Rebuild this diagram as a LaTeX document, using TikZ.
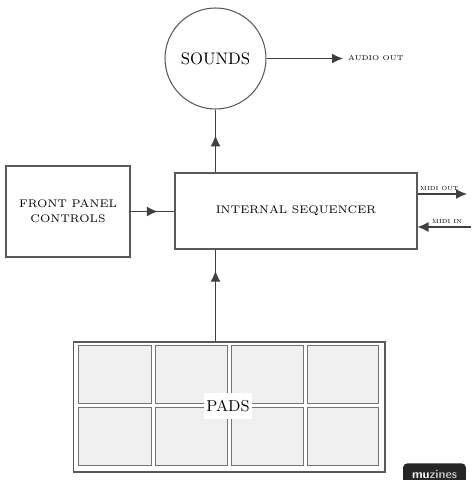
\documentclass[tikz,border=0pt]{standalone}
\usepackage{tikz}
\usetikzlibrary{arrows.meta, calc, positioning, decorations.markings}

\begin{document}
\begin{tikzpicture}[x=0.02cm, y=-0.02cm,
  box/.style={draw=black!65, line width=0.6pt, rectangle, inner sep=0pt},
  link/.style={draw=black!75, line width=0.7pt},
  tip/.style={-{Latex[length=0.22cm,width=0.2cm]}},
  arrowat/.style={postaction={decorate}, decoration={markings, mark=at position #1 with {\arrow{Latex[length=0.22cm,width=0.2cm]}}}},
  tiny/.style={inner sep=1pt, font=\fontsize{3.3}{4}\selectfont}]
\useasboundingbox (0,0) rectangle (474,480);

% Blocks
\node[circle, draw=black!65, line width=0.6pt, minimum size=2.02cm, inner sep=0pt, font=\fontsize{9.5}{11}\selectfont] (sounds) at (215.5,58.5) {SOUNDS};
\node[box, minimum width=4.84cm, minimum height=1.52cm, font=\fontsize{6.3}{8}\selectfont] (seq) at (296,211) {INTERNAL SEQUENCER};
\node[box, minimum width=2.48cm, minimum height=1.82cm, align=center, font=\fontsize{6.3}{8.5}\selectfont] (front) at (68,211.5) {FRONT PANEL\\CONTROLS};
\node[box, minimum width=6.24cm, minimum height=2.6cm] (pads) at (229,407) {};

% Pad cells
\foreach \x/\xx in {78/151,155/227,231/303,307/378}
  \foreach \y/\yy in {345/403,407/465}
    \draw[draw=black!55, fill=black!6] (\x,\y) rectangle (\xx,\yy);
\node[fill=white, inner xsep=1.5pt, inner ysep=4pt, font=\fontsize{9}{10}\selectfont] (padlbl) at (228,406) {PADS};

% Connections
\draw[link, arrowat=0.59] (sounds.south |- seq.north) -- (sounds.south);
\draw[link, arrowat=0.77] (sounds.south |- pads.north) -- (sounds.south |- seq.south);
\draw[link, arrowat=0.62] (front.east) -- (seq.west |- front.east);

\coordinate (aout) at (343,58.5);
\draw[link, tip] (sounds.east) -- (aout);
\node[right=0.06cm of aout, inner sep=1pt, font=\fontsize{4}{5}\selectfont] (aoutlbl) {AUDIO OUT};

\coordinate (mout) at (467,194);
\draw[link, tip] (seq.east |- mout) -- (mout);
\node[tiny, anchor=south west] (moutlbl) at (418,192.5) {MIDI OUT};

\coordinate (min) at (471,227);
\draw[link, tip] (min) -- (seq.east |- min);
\node[tiny, anchor=south east] (minlbl) at (464,225.5) {MIDI IN};

% Logo
\node[fill=black!85, rounded corners=2.5pt, minimum width=1.26cm, minimum height=0.44cm, anchor=north, text=white, font=\sffamily\bfseries\fontsize{7}{8}\selectfont] (logo) at (434.5,463) {mu\textcolor{black!25}{zines}};
\end{tikzpicture}
\end{document}
